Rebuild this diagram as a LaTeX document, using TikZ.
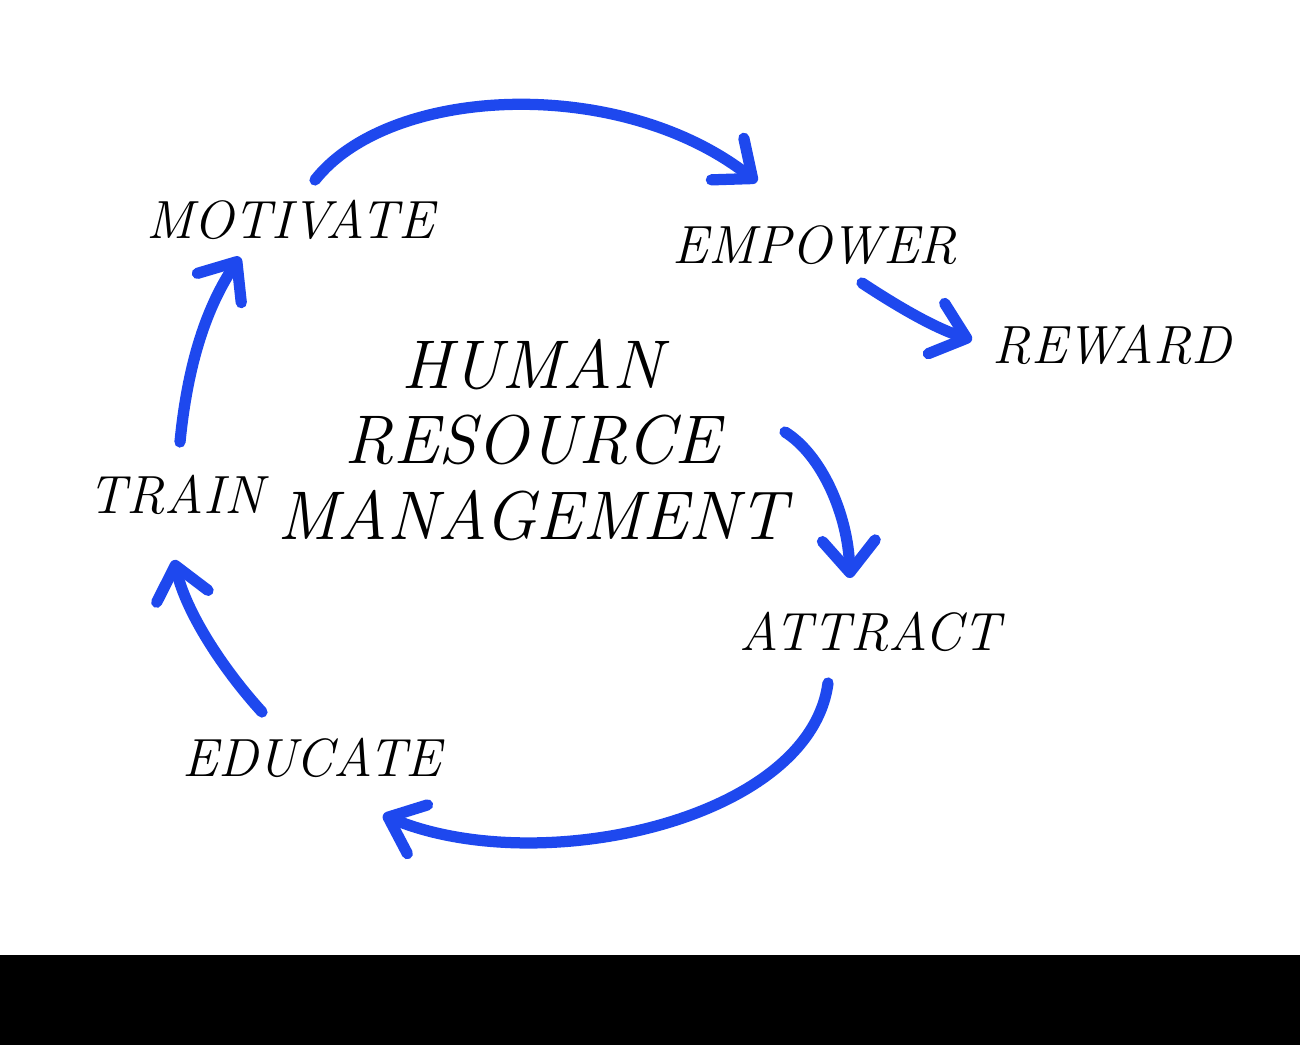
\documentclass[tikz,border=0pt]{standalone}
\usetikzlibrary{arrows.meta}
\definecolor{hrblue}{RGB}{30,72,238}

\begin{document}
\begin{tikzpicture}[x=0.01cm,y=-0.01cm,>={Straight Barb[length=9pt,width=15pt,line cap=round,line join=round]},
      flow/.style={draw=hrblue,line width=3.2pt,->,line cap=round},
      word/.style={font=\fontsize{15.3}{18}\selectfont\itshape,inner sep=0pt},
      title/.style={font=\fontsize{19.6}{21.5}\selectfont\itshape,align=center,inner sep=0pt}]
      \useasboundingbox (0,0) rectangle (1300,1045);
      \fill[black] (0,955) rectangle (1300,1045);
      \node[word]   (motivate) at (290,220) {MOTIVATE};
      \node[word]   (empower)  at (815,245) {EMPOWER};
      \node[word]   (reward)   at (1112,345) {REWARD};
      \node[word]   (train)    at (176,495) {TRAIN};
      \node[word]   (attract)  at (870,632) {ATTRACT};
      \node[word]   (educate)  at (312,758) {EDUCATE};
      \node[title]  (hrm)      at (532,440) {HUMAN\\RESOURCE\\MANAGEMENT};
      % arrow ends
      \coordinate (m1) at (315,180);  \coordinate (e1) at (757,182);
      \coordinate (e2) at (862,283);  \coordinate (r1) at (972,340);
      \coordinate (h1) at (785,432);  \coordinate (a1) at (850,578);
      \coordinate (a2) at (828,683);  \coordinate (d1) at (383,815);
      \coordinate (d2) at (262,712);  \coordinate (t1) at (174,560);
      \coordinate (t2) at (180,442);  \coordinate (m2) at (240,257);
      \draw[flow] (m1) .. controls (390,85) and (620,75) .. (e1);
      \draw[flow] (e2) .. controls (900,308) and (935,328) .. (r1);
      \draw[flow] (h1) .. controls (822,455) and (848,515) .. (a1);
      \draw[flow] (a2) .. controls (810,820) and (540,880) .. (d1);
      \draw[flow] (d2) .. controls (222,668) and (186,612) .. (t1);
      \draw[flow] (t2) .. controls (188,360) and (208,305) .. (m2);
    \end{tikzpicture}
\end{document}
